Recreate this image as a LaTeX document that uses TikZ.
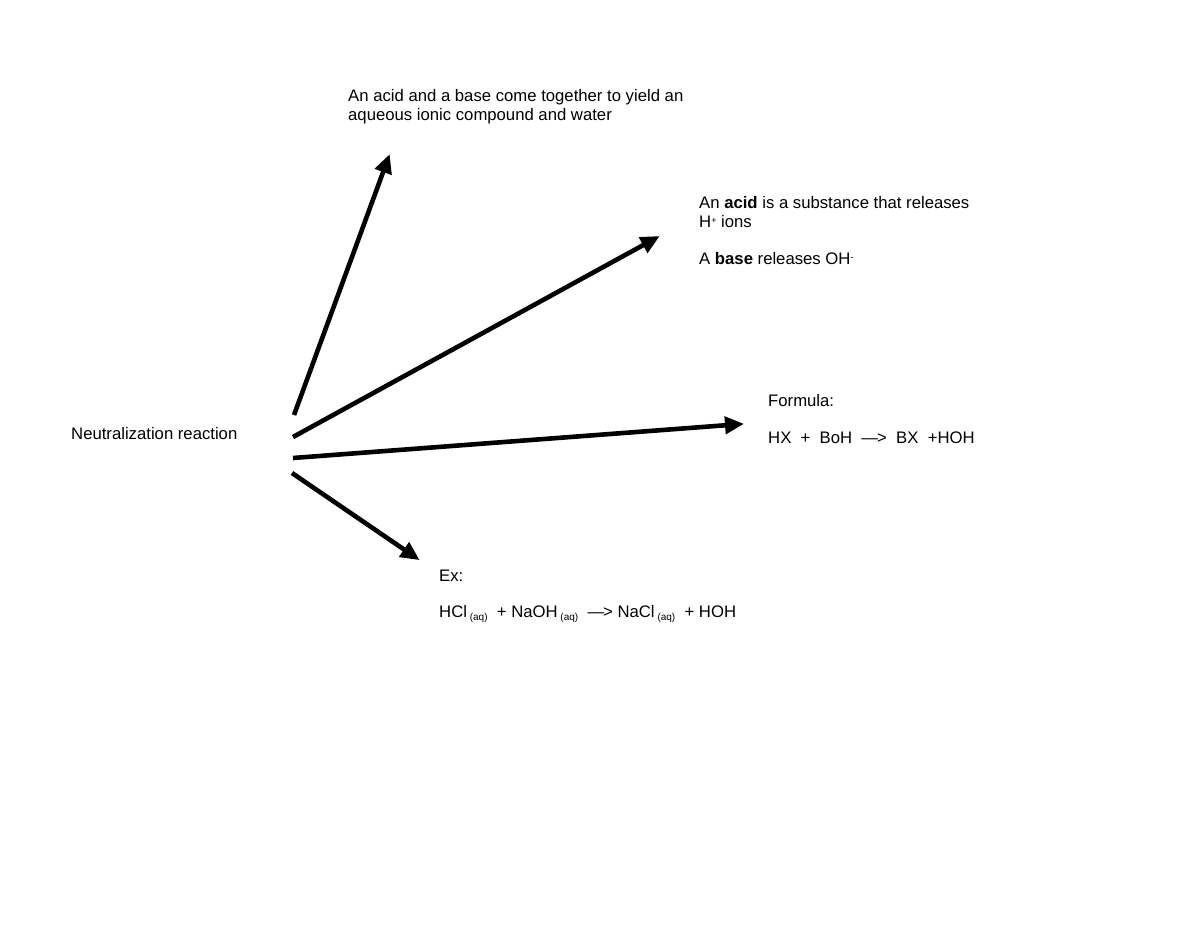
\documentclass[tikz,border=0pt]{standalone}
\usepackage{fontspec}
\setmainfont{Liberation Sans}
\usetikzlibrary{arrows.meta}
\begin{document}
\begin{tikzpicture}[x=1pt,y=-1pt,
  txt/.style={anchor=base west,inner sep=0pt,align=left,text=black,font=\fontsize{16.7}{19}\selectfont},
  bigarrow/.style={line width=4.6pt,-{Triangle[length=19pt,width=17pt]},shorten >=-2pt}]
\useasboundingbox[fill=white] (0,0) rectangle (1200,927);
\newcommand{\smallsub}[1]{\raisebox{-3pt}{\fontsize{10}{10}\selectfont #1}}
\newcommand{\smallsup}[1]{\raisebox{4pt}{\fontsize{9}{9}\selectfont #1}}
\node[txt] (neut) at (71,439) {Neutralization reaction};
\node[txt] (def) at (348,120) {An acid and a base come together to yield an\\aqueous ionic compound and water};
\node[txt] (acid) at (699,227) {An \textbf{acid} is a substance that releases\\H\smallsup{+} ions};
\node[txt] (base) at (699,264) {A \textbf{base} releases OH\smallsup{-}};
\node[txt] (form) at (768,406) {Formula:};
\node[txt] (formeq) at (768,443) {HX \ + \ BoH \ \textemdash\hspace{-1pt}> \ BX \ +HOH};
\node[txt] (ex) at (439,581) {Ex:};
\node[txt] (exeq) at (439,617) {HCl\,\smallsub{(aq)} \ + NaOH\,\smallsub{(aq)} \ \textemdash\hspace{-1pt}> NaCl\,\smallsub{(aq)} \ + HOH};
\coordinate (s1) at (294,415);
\coordinate (s2) at (293,437);
\coordinate (s3) at (293,458);
\coordinate (s4) at (292,473);
\coordinate (t1) at (389,156);
\coordinate (t2) at (658,237);
\coordinate (t3) at (742,424);
\coordinate (t4) at (418,559);
\draw[bigarrow] (s1) -- (t1);
\draw[bigarrow] (s2) -- (t2);
\draw[bigarrow] (s3) -- (t3);
\draw[bigarrow] (s4) -- (t4);
\end{tikzpicture}
\end{document}
